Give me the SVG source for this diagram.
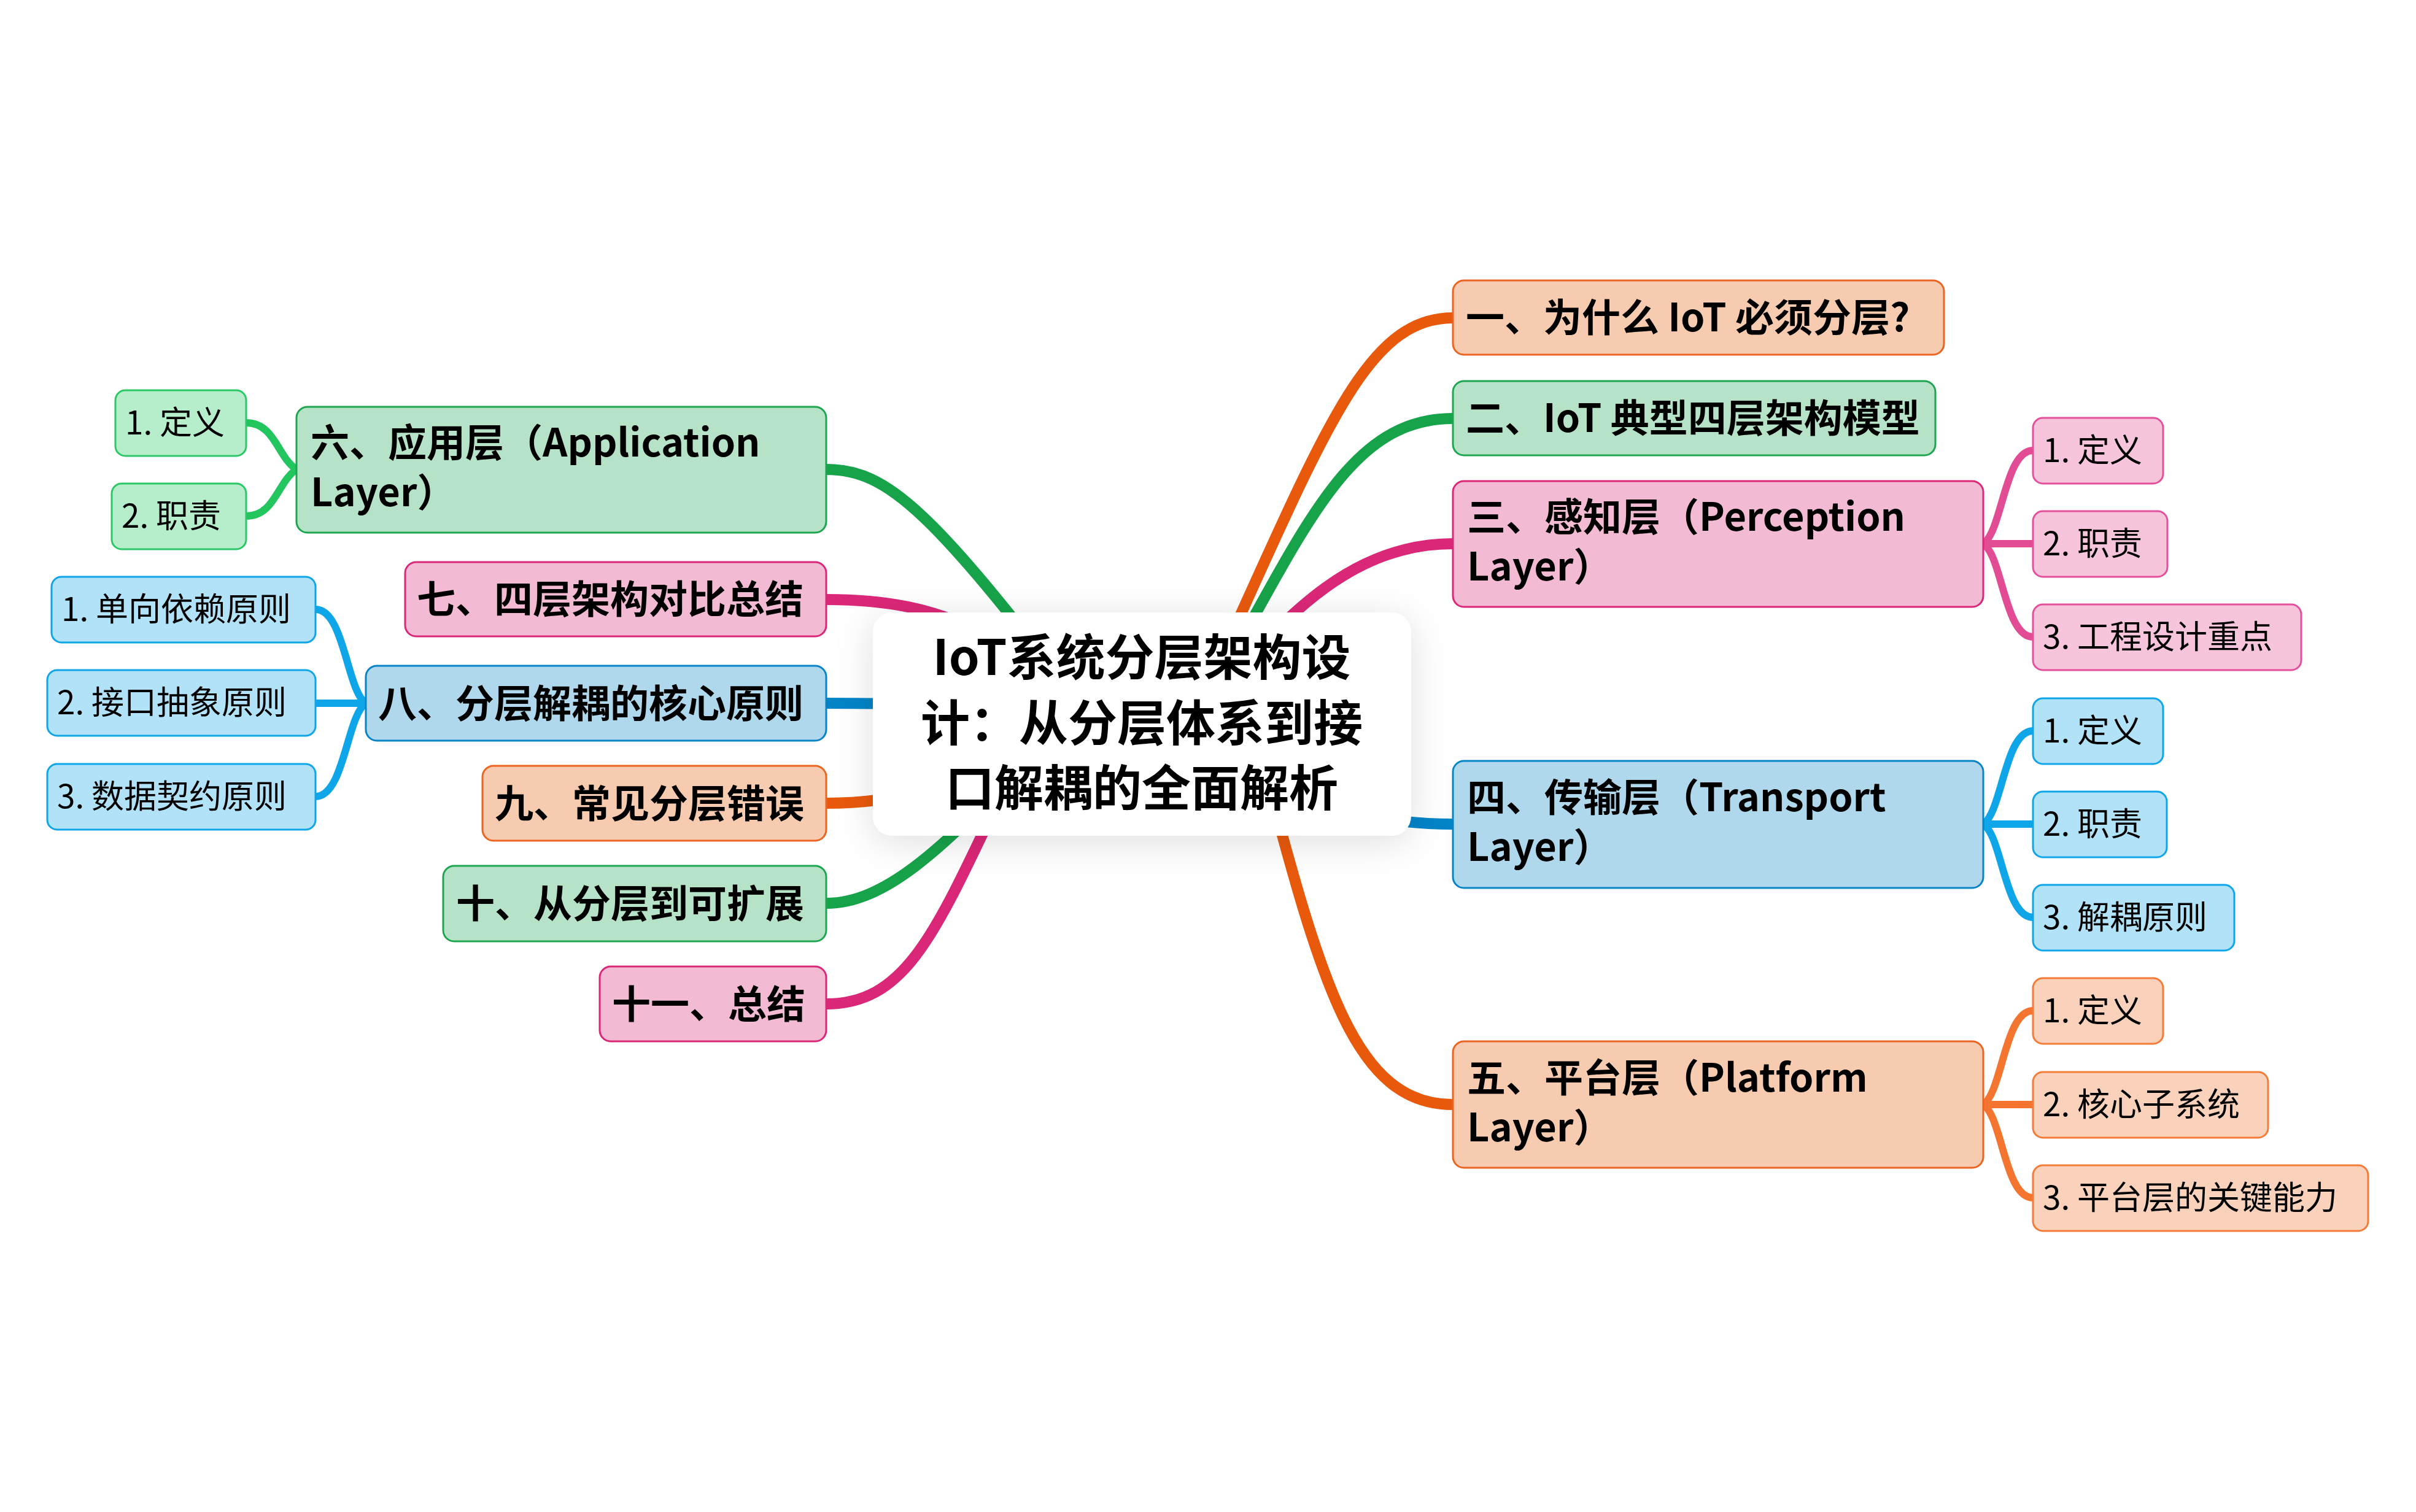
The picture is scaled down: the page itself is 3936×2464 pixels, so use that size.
<svg xmlns="http://www.w3.org/2000/svg" width="3936" height="2464" viewBox="0 0 3936 2464">
<defs>
<filter id="shadow" x="-20%" y="-30%" width="140%" height="160%">
<feDropShadow dx="0" dy="10" stdDeviation="30" flood-color="#000" flood-opacity="0.13"/>
</filter>
<style>
.main{fill:none;stroke-width:18;stroke-linecap:butt}
.sub{fill:none;stroke-width:12;stroke-linecap:butt}
.t1{font-family:"Noto Sans CJK SC","Noto Sans",sans-serif;font-weight:700;font-size:63px;fill:#000}
.t2{font-family:"Noto Sans CJK SC","Noto Sans",sans-serif;font-weight:400;font-size:53px;fill:#000}
.tc{font-family:"Noto Sans CJK SC","Noto Sans",sans-serif;font-weight:700;font-size:80px;fill:#000;text-anchor:middle}
.bo{stroke-width:3}
.o1{fill:#F7CBB0;stroke:#EC6420}
.g1{fill:#B6E3C7;stroke:#1DA54F}
.p1{fill:#F2BAD3;stroke:#DB2777}
.b1{fill:#B0D8EC;stroke:#0784C8}
.o2{fill:#FAD1BA;stroke:#F47B38}
.g2{fill:#B6EDCB;stroke:#2CC766}
.p2{fill:#F6C4DB;stroke:#E4509C}
.b2{fill:#B2E2F8;stroke:#0EA5E9}
</style>
</defs>
<rect width="3936" height="2464" fill="#FFFFFF"/>
<g id="connectors">
<path class="main" stroke="#E8590C" d="M1940 1180 C2152 720 2217 518 2367 518"/>
<path class="main" stroke="#17A34A" d="M1945 1180 C2119 880 2187 682 2367 682"/>
<path class="main" stroke="#DB2777" d="M1935 1180 C2055 1060 2167 886 2367 886"/>
<path class="main" stroke="#0284C7" d="M2150 1320 C2250 1335 2300 1343 2367 1343"/>
<path class="main" stroke="#E8590C" d="M2040 1180 C2148 1580 2197 1800 2367 1800"/>
<path class="main" stroke="#17A34A" d="M1784 1180 C1518 830 1446 765 1346 765"/>
<path class="main" stroke="#DB2777" d="M1760 1150 C1640 1050 1560 977 1346 977"/>
<path class="main" stroke="#0284C7" d="M1700 1180 C1550 1146 1450 1146 1346 1146"/>
<path class="main" stroke="#E8590C" d="M1700 1200 C1550 1290 1450 1309 1346 1309"/>
<path class="main" stroke="#17A34A" d="M1736 1180 C1578 1330 1467 1472 1346 1472"/>
<path class="main" stroke="#DB2777" d="M1687 1180 C1537 1480 1497 1636 1346 1636"/>
<path class="sub" stroke="#E24C94" d="M3231 886 C3262 866 3266 734 3312 734 M3231 886 L3312 886 M3231 886 C3262 906 3266 1038 3312 1038"/>
<path class="sub" stroke="#0EA5E9" d="M3231 1343 C3262 1323 3266 1191 3312 1191 M3231 1343 L3312 1343 M3231 1343 C3262 1363 3266 1495 3312 1495"/>
<path class="sub" stroke="#F47530" d="M3231 1800 C3262 1780 3266 1647 3312 1647 M3231 1800 L3312 1800 M3231 1800 C3262 1820 3266 1952 3312 1952"/>
<path class="sub" stroke="#22C55E" d="M483 765 C452 745 448 689 401 689 M483 765 C452 785 448 841 401 841"/>
<path class="sub" stroke="#0EA5E9" d="M596 1146 C565 1126 561 993 514 993 M596 1146 L514 1146 M596 1146 C565 1166 561 1298 514 1298"/>
</g>
<g id="center">
<rect x="1422" y="998" width="877" height="364" rx="32" fill="#FFFFFF" filter="url(#shadow)"/>
<text class="tc"><tspan x="1860" y="1100">IoT系统分层架构设</tspan><tspan x="1860" y="1207">计：从分层体系到接</tspan><tspan x="1860" y="1313">口解耦的全面解析</tspan></text>
</g>
<g id="n1"><rect class="o1 bo" x="2367" y="457" width="800" height="121" rx="18"/><text class="t1" x="2388" y="540">一、为什么 IoT 必须分层?</text></g>
<g id="n2"><rect class="g1 bo" x="2367" y="621" width="786" height="121" rx="18"/><text class="t1" x="2388" y="704">二、IoT 典型四层架构模型</text></g>
<g id="n3"><rect class="p1 bo" x="2367" y="784" width="864" height="205" rx="18"/><text class="t1"><tspan x="2390" y="865">三、感知层（Perception</tspan><tspan x="2390" y="946">Layer）</tspan></text></g>
<g id="n3a"><rect class="p2 bo" x="3312" y="681" width="212" height="107" rx="16"/><text class="t2" x="3328" y="753">1. 定义</text></g>
<g id="n3b"><rect class="p2 bo" x="3312" y="833" width="219" height="107" rx="16"/><text class="t2" x="3328" y="905">2. 职责</text></g>
<g id="n3c"><rect class="p2 bo" x="3312" y="985" width="437" height="107" rx="16"/><text class="t2" x="3328" y="1057">3. 工程设计重点</text></g>
<g id="n4"><rect class="b1 bo" x="2367" y="1240" width="864" height="207" rx="18"/><text class="t1"><tspan x="2390" y="1322">四、传输层（Transport</tspan><tspan x="2390" y="1403">Layer）</tspan></text></g>
<g id="n4a"><rect class="b2 bo" x="3312" y="1138" width="212" height="107" rx="16"/><text class="t2" x="3328" y="1210">1. 定义</text></g>
<g id="n4b"><rect class="b2 bo" x="3312" y="1290" width="218" height="107" rx="16"/><text class="t2" x="3328" y="1362">2. 职责</text></g>
<g id="n4c"><rect class="b2 bo" x="3312" y="1442" width="328" height="107" rx="16"/><text class="t2" x="3328" y="1514">3. 解耦原则</text></g>
<g id="n5"><rect class="o1 bo" x="2367" y="1697" width="864" height="206" rx="18"/><text class="t1"><tspan x="2390" y="1779">五、平台层（Platform</tspan><tspan x="2390" y="1860">Layer）</tspan></text></g>
<g id="n5a"><rect class="o2 bo" x="3312" y="1594" width="212" height="107" rx="16"/><text class="t2" x="3328" y="1666">1. 定义</text></g>
<g id="n5b"><rect class="o2 bo" x="3312" y="1747" width="383" height="107" rx="16"/><text class="t2" x="3328" y="1819">2. 核心子系统</text></g>
<g id="n5c"><rect class="o2 bo" x="3312" y="1899" width="546" height="107" rx="16"/><text class="t2" x="3328" y="1971">3. 平台层的关键能力</text></g>
<g id="n6"><rect class="g1 bo" x="483" y="663" width="863" height="205" rx="18"/><text class="t1"><tspan x="506" y="744">六、应用层（Application</tspan><tspan x="506" y="825">Layer）</tspan></text></g>
<g id="n6a"><rect class="g2 bo" x="188" y="636" width="213" height="107" rx="16"/><text class="t2" x="204" y="708">1. 定义</text></g>
<g id="n6b"><rect class="g2 bo" x="182" y="788" width="219" height="107" rx="16"/><text class="t2" x="198" y="860">2. 职责</text></g>
<g id="n7"><rect class="p1 bo" x="660" y="916" width="686" height="121" rx="18"/><text class="t1" x="679" y="999">七、四层架构对比总结</text></g>
<g id="n8"><rect class="b1 bo" x="596" y="1085" width="750" height="122" rx="18"/><text class="t1" x="616" y="1169">八、分层解耦的核心原则</text></g>
<g id="n8a"><rect class="b2 bo" x="84" y="940" width="430" height="107" rx="16"/><text class="t2" x="100" y="1012">1. 单向依赖原则</text></g>
<g id="n8b"><rect class="b2 bo" x="77" y="1092" width="437" height="107" rx="16"/><text class="t2" x="93" y="1164">2. 接口抽象原则</text></g>
<g id="n8c"><rect class="b2 bo" x="77" y="1245" width="437" height="107" rx="16"/><text class="t2" x="93" y="1317">3. 数据契约原则</text></g>
<g id="n9"><rect class="o1 bo" x="786" y="1248" width="560" height="122" rx="18"/><text class="t1" x="806" y="1332">九、常见分层错误</text></g>
<g id="n10"><rect class="g1 bo" x="722" y="1411" width="624" height="123" rx="18"/><text class="t1" x="743" y="1495">十、从分层到可扩展</text></g>
<g id="n11"><rect class="p1 bo" x="977" y="1575" width="369" height="122" rx="18"/><text class="t1" x="997" y="1659">十一、总结</text></g>
</svg>
